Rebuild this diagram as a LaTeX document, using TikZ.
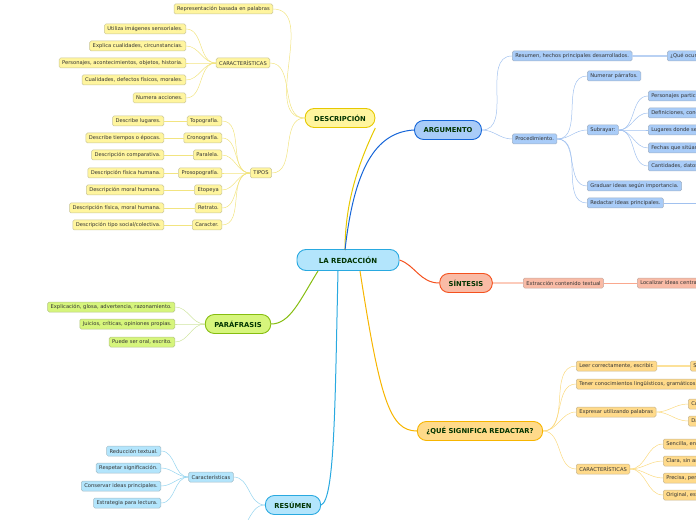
\documentclass[tikz,border=0pt]{standalone}
\usepackage{fontspec}
\setmainfont{DejaVu Sans}
\begin{document}
\begin{tikzpicture}[x=1bp,y=-1bp,
 leaf/.style={draw=#1!70!black!70, fill=#1, rounded corners=1.5bp, line width=0.5bp, inner xsep=3bp, inner ysep=1.5bp, minimum height=10bp, font=\fontsize{5.2}{6}\selectfont, text=black!80},
 main/.style={draw=#1, fill=#1!40, rounded corners=9bp, line width=0.9bp, minimum height=19bp, inner xsep=9bp, font=\fontsize{6.8}{7}\selectfont\bfseries, text=green!20!black},
 ed/.style={draw=#1, line width=0.5bp},
 br/.style={draw=#1, line width=1bp}]
\definecolor{yl}{HTML}{FFF59E}\definecolor{yd}{HTML}{E6C800}
\definecolor{bl}{HTML}{A9CCF8}\definecolor{bd}{HTML}{1565D8}
\definecolor{sl}{HTML}{F9BBA6}\definecolor{sd}{HTML}{F4511E}
\definecolor{ol}{HTML}{FFDA8A}\definecolor{od}{HTML}{F7B500}
\definecolor{gl}{HTML}{D6F57C}\definecolor{gd}{HTML}{86BD10}
\definecolor{cl}{HTML}{B3E5FC}\definecolor{cd}{HTML}{29A9E0}
\useasboundingbox (0,0) rectangle (696,520);
\clip (0,0) rectangle (696,520);
% root
\node[draw=cd, fill=cl, rounded corners=9bp, line width=0.9bp, minimum height=21bp, minimum width=102bp, font=\fontsize{7}{8}\selectfont\bfseries, text=green!20!black] (root) at (348,260) {LA REDACCIÓN};
% main
\node[main=yd, fill=yl] (desc) at (340,118) {DESCRIPCIÓN};
\node[main=bd, fill=bl] (arg) at (448,130) {ARGUMENTO};
\node[main=sd, fill=sl] (sin) at (466,283) {SÍNTESIS};
\node[main=od, fill=ol] (que) at (480,431) {¿QUÉ SIGNIFICA REDACTAR?};
\node[main=gd, fill=gl] (par) at (238,324) {PARÁFRASIS};
\node[main=cd, fill=cl] (res) at (293,505) {RESÚMEN};
\draw[br=yd] (345,250) .. controls (345,200) and (360,160) .. (desc.south east);
\draw[br=bd] (345,250) .. controls (355,160) and (380,132) .. (arg.west);
\draw[br=sd] (root.east) .. controls (415,265) and (420,283) .. (sin.west);
\draw[br=od] (360,271) .. controls (380,400) and (390,431) .. (que.west);
\draw[br=gd] (318,271) .. controls (300,300) and (290,324) .. (par.east);
\draw[br=cd] (338,271) .. controls (335,400) and (335,500) .. (res.east);
% DESCRIPCION
\node[leaf=yl, anchor=east] (d1) at (273,9) {Representación basada en palabras};
\node[leaf=yl] (dc) at (243,63) {CARACTERÍSTICAS};
\node[leaf=yl] (dt) at (261,173) {TIPOS};
\foreach \n in {d1,dc,dt} \draw[ed=yd!50] (desc.west) to[out=180,in=0] (\n.east);
\node[leaf=yl, anchor=east] (dc1) at (186,29) {Utiliza imágenes sensoriales.};
\node[leaf=yl, anchor=east] (dc2) at (186,46) {Explica cualidades, circunstancias.};
\node[leaf=yl, anchor=east] (dc3) at (186,63) {Personajes, acontecimientos, objetos, historia.};
\node[leaf=yl, anchor=east] (dc4) at (186,80) {Cualidades, defectos físicos, morales.};
\node[leaf=yl, anchor=east] (dc5) at (186,98) {Numera acciones.};
\foreach \n in {dc1,dc2,dc3,dc4,dc5} \draw[ed=yd!50] (dc.west) to[out=180,in=0] (\n.east);
\foreach \i/\y/\a/\b in {1/121/Topografía./Describe lugares., 2/138/Cronografía./Describe tiempos o épocas., 3/155/Paralela./Descripción comparativa., 4/173/Prosopografía./Descripción física humana., 5/190/Etopeya/Descripción moral humana., 6/208/Retrato./{Descripción física, moral humana.}, 7/225/Caracter./{Descripción tipo social/colectiva.}}{
 \node[leaf=yl, anchor=east] (dt\i) at (222,\y) {\a};
 \node[leaf=yl, anchor=east] (dl\i) at (164,\y) {\b};
 \draw[ed=yd!50] (dt.west) to[out=180,in=0] (dt\i.east);
 \draw[ed=yd!50] (dt\i.west) -- (dl\i.east);}
% ARGUMENTO
\node[leaf=bl, anchor=west] (a1) at (512,56) {Resumen, hechos principales desarrollados.};
\node[leaf=bl, anchor=west] (a1a) at (667,56) {¿Qué ocurrió en el texto?};
\node[leaf=bl, anchor=west] (a2) at (512,139) {Procedimiento.};
\draw[ed=bd!40] (arg.east) to[out=0,in=180] (a1.west);
\draw[ed=bd!40] (arg.east) to[out=0,in=180] (a2.west);
\draw[ed=bd!30, line width=1.5bp] (a1.east) -- (a1a.west);
\node[leaf=bl, anchor=west] (p1) at (587,76) {Numerar párrafos.};
\node[leaf=bl, anchor=west] (p2) at (587,130) {Subrayar:};
\node[leaf=bl, anchor=west] (p3) at (587,186) {Graduar ideas según importancia.};
\node[leaf=bl, anchor=west] (p4) at (587,203) {Redactar ideas principales.};
\foreach \n in {p1,p2,p3,p4} \draw[ed=bd!40] (a2.east) to[out=0,in=180] (\n.west);
\draw[ed=bd!40] (p4.east) -- (700,203);
\foreach \i/\y/\t in {1/96/Personajes participantes., 2/113/{Definiciones, conceptos.}, 3/130/Lugares donde se desarrolla., 4/148/Fechas que sitúan hechos., 5/166/{Cantidades, datos.}}{
 \node[leaf=bl, anchor=west] (s\i) at (648,\y) {\t};
 \draw[ed=bd!40] (p2.east) to[out=0,in=180] (s\i.west);}
% SINTESIS
\node[leaf=sl, anchor=west] (si1) at (523,283) {Extracción contenido textual};
\node[leaf=sl, anchor=west] (si2) at (637,283) {Localizar ideas centrales.};
\draw[ed=sd!30, line width=1.5bp] (sin.east) -- (si1.west);
\draw[ed=sd!50] (si1.east) -- (si2.west);
% QUE SIGNIFICA
\node[leaf=ol, anchor=west] (q1) at (576,366) {Leer correctamente, escribir.};
\node[leaf=ol, anchor=west] (q1a) at (690,366) {Saber};
\node[leaf=ol, anchor=west] (q2) at (576,384) {Tener conocimientos lingüísticos, gramáticos.};
\node[leaf=ol, anchor=west] (q3) at (576,412) {Expresar utilizando palabras};
\node[leaf=ol, anchor=west] (q4) at (576,469) {CARACTERÍSTICAS};
\foreach \n in {q1,q2,q3,q4} \draw[ed=od!50] (que.east) to[out=0,in=180] (\n.west);
\draw[ed=od!40, line width=1.2bp] (q1.east) -- (q1a.west);
\node[leaf=ol, anchor=west] (q31) at (688,404) {Conceptos};
\node[leaf=ol, anchor=west] (q32) at (688,421) {Datos};
\foreach \n in {q31,q32} \draw[ed=od!50] (q3.east) to[out=0,in=180] (\n.west);
\foreach \i/\y/\t in {1/444/{Sencilla, entendible.}, 2/461/{Clara, sin ambigüedad.}, 3/478/{Precisa, pertinente.}, 4/495/{Original, estilo propio.}}{
 \node[leaf=ol, anchor=west] (c\i) at (663,\y) {\t};
 \draw[ed=od!50] (q4.east) to[out=0,in=180] (c\i.west);}
% PARAFRASIS
\foreach \i/\y/\t in {1/307/{Explicación, glosa, advertencia, razonamiento.}, 2/324/{Juicios, críticas, opiniones propias.}, 3/342/{Puede ser oral, escrito.}}{
 \node[leaf=gl, anchor=east] (g\i) at (175,\y) {\t};
 \draw[ed=gd!40] (par.west) to[out=180,in=0] (g\i.east);}
% RESUMEN
\node[leaf=cl, anchor=center] (rc) at (211,477) {Características};
\draw[ed=cd!50] (res.west) to[out=180,in=0] (rc.east);
\draw[ed=cd!50] (res.west) to[out=180,in=60] (248,520);
\foreach \i/\y/\t in {1/451/Reducción textual., 2/468/Respetar significación., 3/486/Conservar ideas principales., 4/503/Estrategia para lectura.}{
 \node[leaf=cl, anchor=east] (r\i) at (161,\y) {\t};
 \draw[ed=cd!50] (rc.west) to[out=180,in=0] (r\i.east);}
\end{tikzpicture}
\end{document}
